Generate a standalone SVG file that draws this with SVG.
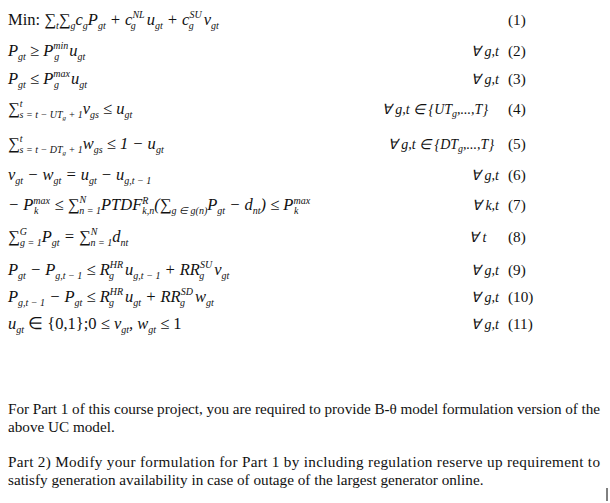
<svg xmlns="http://www.w3.org/2000/svg" width="610" height="503" viewBox="0 0 610 503">
<style>
text{font-family:"Liberation Serif",serif;font-size:16.5px;fill:#111}
.m{font-style:italic}
.s{font-size:10px}
.r{font-style:normal}
.p{font-size:15.2px;font-style:normal}
</style>
<rect width="610" height="503" fill="#fff"/>
<g class="m">
<text x="8" y="25"><tspan class="r">Min: </tspan>∑<tspan class="s" dy="4">t</tspan><tspan dy="-4">∑</tspan><tspan class="s" dy="4">g</tspan><tspan dy="-4">c</tspan><tspan class="s" dy="4">g</tspan><tspan dy="-4">P</tspan><tspan class="s" dy="4">gt</tspan><tspan dy="-4"> + c</tspan><tspan class="s" dy="-7">NL</tspan><tspan class="s" dx="-14" dy="11">g</tspan><tspan dx="11" dy="-4">u</tspan><tspan class="s" dy="4">gt</tspan><tspan dy="-4"> + c</tspan><tspan class="s" dy="-7">SU</tspan><tspan class="s" dx="-13" dy="11">g</tspan><tspan dx="10" dy="-4">v</tspan><tspan class="s" dy="4">gt</tspan></text>
<text x="8" y="56">P<tspan class="s" dy="4">gt</tspan><tspan dy="-4"> ≥ P</tspan><tspan class="s" dy="-7">min</tspan><tspan class="s" dx="-14" dy="11">g</tspan><tspan dx="10" dy="-4">u</tspan><tspan class="s" dy="4">gt</tspan></text>
<text x="8" y="84">P<tspan class="s" dy="4">gt</tspan><tspan dy="-4"> ≤ P</tspan><tspan class="s" dy="-7">max</tspan><tspan class="s" dx="-16" dy="11">g</tspan><tspan dx="12" dy="-4">u</tspan><tspan class="s" dy="4">gt</tspan></text>
<text x="8" y="114">∑<tspan class="s" dy="-7">t</tspan><tspan class="s" dx="-3" dy="11">s = t − UT</tspan><tspan dy="2" style="font-size:7px">g</tspan><tspan class="s" dy="-2"> + 1</tspan><tspan dy="-4">v</tspan><tspan class="s" dy="4">gs</tspan><tspan dy="-4"> ≤ u</tspan><tspan class="s" dy="4">gt</tspan></text>
<text x="8" y="149">∑<tspan class="s" dy="-7">t</tspan><tspan class="s" dx="-3" dy="11">s = t − DT</tspan><tspan dy="2" style="font-size:7px">g</tspan><tspan class="s" dy="-2"> + 1</tspan><tspan dy="-4">w</tspan><tspan class="s" dy="4">gs</tspan><tspan dy="-4"> ≤ 1 − u</tspan><tspan class="s" dy="4">gt</tspan></text>
<text x="8" y="180">v<tspan class="s" dy="4">gt</tspan><tspan dy="-4"> − w</tspan><tspan class="s" dy="4">gt</tspan><tspan dy="-4"> = u</tspan><tspan class="s" dy="4">gt</tspan><tspan dy="-4"> − u</tspan><tspan class="s" dy="4">g,t − 1</tspan></text>
<text x="8" y="210">− P<tspan class="s" dy="-6">max</tspan><tspan class="s" dx="-16" dy="10">k</tspan><tspan dx="12" dy="-4"> ≤ ∑</tspan><tspan class="s" dy="-7">N</tspan><tspan class="s" dx="-7" dy="11">n = 1</tspan><tspan dy="-4">PTDF</tspan><tspan class="s" dy="-6">R</tspan><tspan class="s" dx="-6" dy="10">k,n</tspan><tspan dy="-4">(∑</tspan><tspan class="s" dy="4">g ∈ g(n)</tspan><tspan dy="-4">P</tspan><tspan class="s" dy="4">gt</tspan><tspan dy="-4"> − d</tspan><tspan class="s" dy="4">nt</tspan><tspan dy="-4">) ≤ P</tspan><tspan class="s" dy="-6">max</tspan><tspan class="s" dx="-16" dy="10">k</tspan></text>
<text x="8" y="242">∑<tspan class="s" dy="-7">G</tspan><tspan class="s" dx="-7" dy="11">g = 1</tspan><tspan dy="-4">P</tspan><tspan class="s" dy="4">gt</tspan><tspan dy="-4"> = ∑</tspan><tspan class="s" dy="-7">N</tspan><tspan class="s" dx="-7" dy="11">n = 1</tspan><tspan dy="-4">d</tspan><tspan class="s" dy="4">nt</tspan></text>
<text x="8" y="275">P<tspan class="s" dy="4">gt</tspan><tspan dy="-4"> − P</tspan><tspan class="s" dy="4">g,t − 1</tspan><tspan dy="-4"> ≤ R</tspan><tspan class="s" dy="-7">HR</tspan><tspan class="s" dx="-14" dy="11">g</tspan><tspan dx="11" dy="-4">u</tspan><tspan class="s" dy="4">g,t − 1</tspan><tspan dy="-4"> + RR</tspan><tspan class="s" dy="-7">SU</tspan><tspan class="s" dx="-13" dy="11">g</tspan><tspan dx="10" dy="-4">v</tspan><tspan class="s" dy="4">gt</tspan></text>
<text x="8" y="302">P<tspan class="s" dy="4">g,t − 1</tspan><tspan dy="-4"> − P</tspan><tspan class="s" dy="4">gt</tspan><tspan dy="-4"> ≤ R</tspan><tspan class="s" dy="-7">HR</tspan><tspan class="s" dx="-14" dy="11">g</tspan><tspan dx="11" dy="-4">u</tspan><tspan class="s" dy="4">gt</tspan><tspan dy="-4"> + RR</tspan><tspan class="s" dy="-7">SD</tspan><tspan class="s" dx="-13" dy="11">g</tspan><tspan dx="10" dy="-4">w</tspan><tspan class="s" dy="4">gt</tspan></text>
<text x="8" y="329">u<tspan class="s" dy="4">gt</tspan><tspan dy="-4" class="r"> ∈ {0,1};0 ≤ </tspan><tspan>v</tspan><tspan class="s" dy="4">gt</tspan><tspan dy="-4">, w</tspan><tspan class="s" dy="4">gt</tspan><tspan dy="-4" class="r"> ≤ 1</tspan></text>
</g>
<g class="m">
<text x="499" y="56" text-anchor="end" style="font-size:14px">∀ g,t</text>
<text x="499" y="84" text-anchor="end" style="font-size:14px">∀ g,t</text>
<text x="488" y="114" text-anchor="end" style="font-size:14px">∀ g,t ∈ {UT<tspan class="s" dy="3">g</tspan><tspan dy="-3">,...,T}</tspan></text>
<text x="494" y="149" text-anchor="end" style="font-size:14px">∀ g,t ∈ {DT<tspan class="s" dy="3">g</tspan><tspan dy="-3">,...,T}</tspan></text>
<text x="499" y="180" text-anchor="end" style="font-size:14px">∀ g,t</text>
<text x="499" y="210" text-anchor="end" style="font-size:14px">∀ k,t</text>
<text x="469" y="242" style="font-size:14px">∀ t</text>
<text x="499" y="275" text-anchor="end" style="font-size:14px">∀ g,t</text>
<text x="499" y="302" text-anchor="end" style="font-size:14px">∀ g,t</text>
<text x="499" y="329" text-anchor="end" style="font-size:14px">∀ g,t</text>
</g>
<g>
<text class="p" x="508" y="25">(1)</text>
<text class="p" x="508" y="56">(2)</text>
<text class="p" x="508" y="84">(3)</text>
<text class="p" x="508" y="114">(4)</text>
<text class="p" x="508" y="149">(5)</text>
<text class="p" x="508" y="180">(6)</text>
<text class="p" x="508" y="210">(7)</text>
<text class="p" x="508" y="242">(8)</text>
<text class="p" x="508" y="275">(9)</text>
<text class="p" x="508" y="302">(10)</text>
<text class="p" x="508" y="329">(11)</text>
</g>
<text class="p" x="8" y="414" textLength="592" lengthAdjust="spacing">For Part 1 of this course project, you are required to provide B-θ model formulation version of the</text>
<text class="p" x="8" y="432">above UC model.</text>
<text class="p" x="8" y="467" textLength="592" lengthAdjust="spacing">Part 2) Modify your formulation for Part 1 by including regulation reserve up requirement to</text>
<text class="p" x="8" y="485">satisfy generation availability in case of outage of the largest generator online.</text>
<line x1="607" y1="488" x2="607" y2="501" stroke="#000" stroke-width="1"/>
</svg>
